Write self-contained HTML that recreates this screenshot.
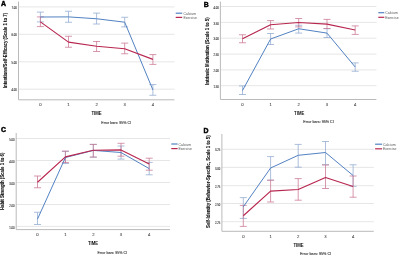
<!DOCTYPE html>
<html><head><meta charset="utf-8"><style>
html,body{margin:0;padding:0;background:#fff;}
body{width:400px;height:256px;overflow:hidden;}
svg{display:block;filter:blur(0.25px);}
text{font-family:"Liberation Sans", sans-serif;}
</style></head><body>
<svg width="400" height="256" viewBox="0 0 400 256">
<rect width="400" height="256" fill="#fff"/>
<line x1="18.5" y1="6.9" x2="174.5" y2="6.9" stroke="#e0e0e0" stroke-width="0.8"/>
<text x="16.9" y="9.05" text-anchor="end" font-size="3.4" fill="#2a2a2a" stroke="#2a2a2a" stroke-width="0.1" textLength="5.3" lengthAdjust="spacingAndGlyphs">7.00</text>
<line x1="18.5" y1="34.3" x2="174.5" y2="34.3" stroke="#e0e0e0" stroke-width="0.8"/>
<text x="16.9" y="36.45" text-anchor="end" font-size="3.4" fill="#2a2a2a" stroke="#2a2a2a" stroke-width="0.1" textLength="5.3" lengthAdjust="spacingAndGlyphs">6.00</text>
<line x1="18.5" y1="61.8" x2="174.5" y2="61.8" stroke="#e0e0e0" stroke-width="0.8"/>
<text x="16.9" y="63.95" text-anchor="end" font-size="3.4" fill="#2a2a2a" stroke="#2a2a2a" stroke-width="0.1" textLength="5.3" lengthAdjust="spacingAndGlyphs">5.00</text>
<line x1="18.5" y1="89.2" x2="174.5" y2="89.2" stroke="#e0e0e0" stroke-width="0.8"/>
<text x="16.9" y="91.35" text-anchor="end" font-size="3.4" fill="#2a2a2a" stroke="#2a2a2a" stroke-width="0.1" textLength="5.3" lengthAdjust="spacingAndGlyphs">4.00</text>
<path d="M18.5 1.6V99.8H174.5" fill="none" stroke="#bababa" stroke-width="1"/>
<text x="40.4" y="106" text-anchor="middle" font-size="4.2" fill="#444" stroke="#444" stroke-width="0.08">0</text>
<text x="68.5" y="106" text-anchor="middle" font-size="4.2" fill="#444" stroke="#444" stroke-width="0.08">1</text>
<text x="96.6" y="106" text-anchor="middle" font-size="4.2" fill="#444" stroke="#444" stroke-width="0.08">2</text>
<text x="124.7" y="106" text-anchor="middle" font-size="4.2" fill="#444" stroke="#444" stroke-width="0.08">3</text>
<text x="152.9" y="106" text-anchor="middle" font-size="4.2" fill="#444" stroke="#444" stroke-width="0.08">4</text>
<text x="96.6" y="115.1" text-anchor="middle" font-size="4.5" font-weight="bold" fill="#111" textLength="10.2" lengthAdjust="spacingAndGlyphs">TIME</text>
<text x="101.3" y="123.6" font-size="3.8" fill="#3a3a3a" stroke="#3a3a3a" stroke-width="0.12" textLength="29.8" lengthAdjust="spacingAndGlyphs">Error bars: 95% CI</text>
<text transform="translate(6.6 50.55) rotate(-90)" text-anchor="middle" font-size="4.7" font-weight="bold" fill="#111" stroke="#111" stroke-width="0.1" textLength="75.3" lengthAdjust="spacingAndGlyphs">Intentions/Self-Efficacy (Scale 1 to 7)</text>
<text x="1" y="6.2" font-size="6.9" font-weight="bold" fill="#000" stroke="#000" stroke-width="0.45">A</text>
<line x1="175.7" y1="13.2" x2="182.2" y2="13.2" stroke="#5282c2" stroke-width="1.2"/>
<line x1="175.7" y1="17.4" x2="182.2" y2="17.4" stroke="#b8264f" stroke-width="1.2"/>
<text x="183.5" y="14.8" font-size="4.2" fill="#555" textLength="12.6" lengthAdjust="spacingAndGlyphs">Calcium</text>
<text x="183.5" y="19" font-size="4.2" fill="#555" textLength="13.4" lengthAdjust="spacingAndGlyphs">Exercise</text>
<path d="M36.9 12.1H43.9M40.4 12.1V21.9M36.9 21.9H43.9" stroke="#90aad0" stroke-width="0.75" fill="none"/>
<path d="M65 11.25H72M68.5 11.25V22.25M65 22.25H72" stroke="#90aad0" stroke-width="0.75" fill="none"/>
<path d="M93.1 13.1H100.1M96.6 13.1V24M93.1 24H100.1" stroke="#90aad0" stroke-width="0.75" fill="none"/>
<path d="M121.2 17.25H128.2M124.7 17.25V26.9M121.2 26.9H128.2" stroke="#90aad0" stroke-width="0.75" fill="none"/>
<path d="M149.4 84.6H156.4M152.9 84.6V95.25M149.4 95.25H156.4" stroke="#90aad0" stroke-width="0.75" fill="none"/>
<path d="M36.9 16.9H43.9M40.4 16.9V26.6M36.9 26.6H43.9" stroke="#c97592" stroke-width="0.75" fill="none"/>
<path d="M65 36.25H72M68.5 36.25V47.25M65 47.25H72" stroke="#c97592" stroke-width="0.75" fill="none"/>
<path d="M93.1 41.5H100.1M96.6 41.5V51.5M93.1 51.5H100.1" stroke="#c97592" stroke-width="0.75" fill="none"/>
<path d="M121.2 43.1H128.2M124.7 43.1V53.75M121.2 53.75H128.2" stroke="#c97592" stroke-width="0.75" fill="none"/>
<path d="M149.4 54.6H156.4M152.9 54.6V64.4M149.4 64.4H156.4" stroke="#c97592" stroke-width="0.75" fill="none"/>
<polyline points="40.4,17 68.5,16.9 96.6,18.75 124.7,22.2 152.9,89.9" fill="none" stroke="#5282c2" stroke-width="1.0" stroke-linejoin="round"/>
<polyline points="40.4,21.9 68.5,42.1 96.6,46.3 124.7,48.7 152.9,59.4" fill="none" stroke="#b8264f" stroke-width="1.15" stroke-linejoin="round"/>
<line x1="220.4" y1="6.5" x2="376.4" y2="6.5" stroke="#e0e0e0" stroke-width="0.8"/>
<text x="218.8" y="8.65" text-anchor="end" font-size="3.4" fill="#2a2a2a" stroke="#2a2a2a" stroke-width="0.1" textLength="5.3" lengthAdjust="spacingAndGlyphs">4.00</text>
<line x1="220.4" y1="22.4" x2="376.4" y2="22.4" stroke="#e0e0e0" stroke-width="0.8"/>
<text x="218.8" y="24.55" text-anchor="end" font-size="3.4" fill="#2a2a2a" stroke="#2a2a2a" stroke-width="0.1" textLength="5.3" lengthAdjust="spacingAndGlyphs">3.50</text>
<line x1="220.4" y1="38.2" x2="376.4" y2="38.2" stroke="#e0e0e0" stroke-width="0.8"/>
<text x="218.8" y="40.35" text-anchor="end" font-size="3.4" fill="#2a2a2a" stroke="#2a2a2a" stroke-width="0.1" textLength="5.3" lengthAdjust="spacingAndGlyphs">3.00</text>
<line x1="220.4" y1="54.1" x2="376.4" y2="54.1" stroke="#e0e0e0" stroke-width="0.8"/>
<text x="218.8" y="56.25" text-anchor="end" font-size="3.4" fill="#2a2a2a" stroke="#2a2a2a" stroke-width="0.1" textLength="5.3" lengthAdjust="spacingAndGlyphs">2.50</text>
<line x1="220.4" y1="69.9" x2="376.4" y2="69.9" stroke="#e0e0e0" stroke-width="0.8"/>
<text x="218.8" y="72.05" text-anchor="end" font-size="3.4" fill="#2a2a2a" stroke="#2a2a2a" stroke-width="0.1" textLength="5.3" lengthAdjust="spacingAndGlyphs">2.00</text>
<line x1="220.4" y1="85.7" x2="376.4" y2="85.7" stroke="#e0e0e0" stroke-width="0.8"/>
<text x="218.8" y="87.85" text-anchor="end" font-size="3.4" fill="#2a2a2a" stroke="#2a2a2a" stroke-width="0.1" textLength="5.3" lengthAdjust="spacingAndGlyphs">1.50</text>
<path d="M220.4 1.6V99.5H376.4" fill="none" stroke="#bababa" stroke-width="1"/>
<text x="242.5" y="105.7" text-anchor="middle" font-size="4.2" fill="#444" stroke="#444" stroke-width="0.08">0</text>
<text x="270.6" y="105.7" text-anchor="middle" font-size="4.2" fill="#444" stroke="#444" stroke-width="0.08">1</text>
<text x="298.7" y="105.7" text-anchor="middle" font-size="4.2" fill="#444" stroke="#444" stroke-width="0.08">2</text>
<text x="327" y="105.7" text-anchor="middle" font-size="4.2" fill="#444" stroke="#444" stroke-width="0.08">3</text>
<text x="355.2" y="105.7" text-anchor="middle" font-size="4.2" fill="#444" stroke="#444" stroke-width="0.08">4</text>
<text x="299.2" y="115.2" text-anchor="middle" font-size="4.5" font-weight="bold" fill="#111" textLength="10.2" lengthAdjust="spacingAndGlyphs">TIME</text>
<text x="303.3" y="122.8" font-size="3.8" fill="#3a3a3a" stroke="#3a3a3a" stroke-width="0.12" textLength="30.5" lengthAdjust="spacingAndGlyphs">Error bars: 95% CI</text>
<text transform="translate(209.1 51.15) rotate(-90)" text-anchor="middle" font-size="4.7" font-weight="bold" fill="#111" stroke="#111" stroke-width="0.1" textLength="67.5" lengthAdjust="spacingAndGlyphs">Intrinsic Motivation (Scale 1 to 5)</text>
<text x="203.7" y="6.5" font-size="6.9" font-weight="bold" fill="#000" stroke="#000" stroke-width="0.45">B</text>
<line x1="378.3" y1="12.7" x2="384.3" y2="12.7" stroke="#5282c2" stroke-width="1.2"/>
<line x1="378.3" y1="17.3" x2="384.3" y2="17.3" stroke="#b8264f" stroke-width="1.2"/>
<text x="385.2" y="14.3" font-size="4.2" fill="#555" textLength="12.6" lengthAdjust="spacingAndGlyphs">Calcium</text>
<text x="385.2" y="18.9" font-size="4.2" fill="#555" textLength="13.4" lengthAdjust="spacingAndGlyphs">Exercise</text>
<path d="M239 85.9H246M242.5 85.9V94.5M239 94.5H246" stroke="#90aad0" stroke-width="0.75" fill="none"/>
<path d="M267.1 33.5H274.1M270.6 33.5V44.5M267.1 44.5H274.1" stroke="#90aad0" stroke-width="0.75" fill="none"/>
<path d="M295.2 25.3H302.2M298.7 25.3V33.1M295.2 33.1H302.2" stroke="#90aad0" stroke-width="0.75" fill="none"/>
<path d="M323.5 28.7H330.5M327 28.7V37.5M323.5 37.5H330.5" stroke="#90aad0" stroke-width="0.75" fill="none"/>
<path d="M351.7 62.9H358.7M355.2 62.9V71.25M351.7 71.25H358.7" stroke="#90aad0" stroke-width="0.75" fill="none"/>
<path d="M239 34.75H246M242.5 34.75V42.75M239 42.75H246" stroke="#c97592" stroke-width="0.75" fill="none"/>
<path d="M267.1 20.6H274.1M270.6 20.6V29M267.1 29H274.1" stroke="#c97592" stroke-width="0.75" fill="none"/>
<path d="M295.2 18.5H302.2M298.7 18.5V26.9M295.2 26.9H302.2" stroke="#c97592" stroke-width="0.75" fill="none"/>
<path d="M323.5 19.4H330.5M327 19.4V28.5M323.5 28.5H330.5" stroke="#c97592" stroke-width="0.75" fill="none"/>
<path d="M351.7 25.9H358.7M355.2 25.9V34.4M351.7 34.4H358.7" stroke="#c97592" stroke-width="0.75" fill="none"/>
<polyline points="242.5,90.5 270.6,39 298.7,28.75 327,33.1 355.2,67" fill="none" stroke="#5282c2" stroke-width="1.0" stroke-linejoin="round"/>
<polyline points="242.5,38.75 270.6,24.75 298.7,22.5 327,24.1 355.2,30" fill="none" stroke="#b8264f" stroke-width="1.15" stroke-linejoin="round"/>
<line x1="16.2" y1="138.5" x2="170" y2="138.5" stroke="#e0e0e0" stroke-width="0.8"/>
<text x="14.6" y="140.65" text-anchor="end" font-size="3.4" fill="#2a2a2a" stroke="#2a2a2a" stroke-width="0.1" textLength="5.3" lengthAdjust="spacingAndGlyphs">5.00</text>
<line x1="16.2" y1="160.5" x2="170" y2="160.5" stroke="#e0e0e0" stroke-width="0.8"/>
<text x="14.6" y="162.65" text-anchor="end" font-size="3.4" fill="#2a2a2a" stroke="#2a2a2a" stroke-width="0.1" textLength="5.3" lengthAdjust="spacingAndGlyphs">4.00</text>
<line x1="16.2" y1="182.5" x2="170" y2="182.5" stroke="#e0e0e0" stroke-width="0.8"/>
<text x="14.6" y="184.65" text-anchor="end" font-size="3.4" fill="#2a2a2a" stroke="#2a2a2a" stroke-width="0.1" textLength="5.3" lengthAdjust="spacingAndGlyphs">3.00</text>
<line x1="16.2" y1="204.5" x2="170" y2="204.5" stroke="#e0e0e0" stroke-width="0.8"/>
<text x="14.6" y="206.65" text-anchor="end" font-size="3.4" fill="#2a2a2a" stroke="#2a2a2a" stroke-width="0.1" textLength="5.3" lengthAdjust="spacingAndGlyphs">2.00</text>
<line x1="16.2" y1="226.4" x2="170" y2="226.4" stroke="#e0e0e0" stroke-width="0.8"/>
<text x="14.6" y="228.55" text-anchor="end" font-size="3.4" fill="#2a2a2a" stroke="#2a2a2a" stroke-width="0.1" textLength="5.3" lengthAdjust="spacingAndGlyphs">1.00</text>
<path d="M16.2 133V229.6H170" fill="none" stroke="#bababa" stroke-width="1"/>
<text x="37.5" y="235.8" text-anchor="middle" font-size="4.2" fill="#444" stroke="#444" stroke-width="0.08">0</text>
<text x="65.4" y="235.8" text-anchor="middle" font-size="4.2" fill="#444" stroke="#444" stroke-width="0.08">1</text>
<text x="93.3" y="235.8" text-anchor="middle" font-size="4.2" fill="#444" stroke="#444" stroke-width="0.08">2</text>
<text x="121" y="235.8" text-anchor="middle" font-size="4.2" fill="#444" stroke="#444" stroke-width="0.08">3</text>
<text x="149.2" y="235.8" text-anchor="middle" font-size="4.2" fill="#444" stroke="#444" stroke-width="0.08">4</text>
<text x="93.1" y="244.7" text-anchor="middle" font-size="4.5" font-weight="bold" fill="#111" textLength="10.2" lengthAdjust="spacingAndGlyphs">TIME</text>
<text x="97.6" y="253.5" font-size="3.8" fill="#3a3a3a" stroke="#3a3a3a" stroke-width="0.12" textLength="29.4" lengthAdjust="spacingAndGlyphs">Error bars: 95% CI</text>
<text transform="translate(4.2 181.35) rotate(-90)" text-anchor="middle" font-size="4.7" font-weight="bold" fill="#111" stroke="#111" stroke-width="0.1" textLength="57.5" lengthAdjust="spacingAndGlyphs">Habit Strength (Scale 1 to 6)</text>
<text x="1" y="132.4" font-size="6.9" font-weight="bold" fill="#000" stroke="#000" stroke-width="0.45">C</text>
<line x1="171.3" y1="144" x2="177.6" y2="144" stroke="#5282c2" stroke-width="1.2"/>
<line x1="171.3" y1="148.6" x2="177.6" y2="148.6" stroke="#b8264f" stroke-width="1.2"/>
<text x="178.5" y="145.6" font-size="4.2" fill="#555" textLength="12.6" lengthAdjust="spacingAndGlyphs">Calcium</text>
<text x="178.5" y="150.2" font-size="4.2" fill="#555" textLength="13.4" lengthAdjust="spacingAndGlyphs">Exercise</text>
<path d="M34 212.25H41M37.5 212.25V224.5M34 224.5H41" stroke="#90aad0" stroke-width="0.75" fill="none"/>
<path d="M61.9 151.5H68.9M65.4 151.5V163.5M61.9 163.5H68.9" stroke="#90aad0" stroke-width="0.75" fill="none"/>
<path d="M89.8 144.4H96.8M93.3 144.4V157.25M89.8 157.25H96.8" stroke="#90aad0" stroke-width="0.75" fill="none"/>
<path d="M117.5 146H124.5M121 146V159.1M117.5 159.1H124.5" stroke="#90aad0" stroke-width="0.75" fill="none"/>
<path d="M145.7 162.4H152.7M149.2 162.4V174.8M145.7 174.8H152.7" stroke="#90aad0" stroke-width="0.75" fill="none"/>
<path d="M34 176H41M37.5 176V187.75M34 187.75H41" stroke="#c97592" stroke-width="0.75" fill="none"/>
<path d="M61.9 151H68.9M65.4 151V162.5M61.9 162.5H68.9" stroke="#c97592" stroke-width="0.75" fill="none"/>
<path d="M89.8 144.4H96.8M93.3 144.4V157M89.8 157H96.8" stroke="#c97592" stroke-width="0.75" fill="none"/>
<path d="M117.5 143.3H124.5M121 143.3V156.2M117.5 156.2H124.5" stroke="#c97592" stroke-width="0.75" fill="none"/>
<path d="M145.7 158.2H152.7M149.2 158.2V170.2M145.7 170.2H152.7" stroke="#c97592" stroke-width="0.75" fill="none"/>
<polyline points="37.5,219.1 65.4,157.5 93.3,150.4 121,152.5 149.2,168.6" fill="none" stroke="#5282c2" stroke-width="1.0" stroke-linejoin="round"/>
<polyline points="37.5,182.25 65.4,156.9 93.3,150.3 121,149.9 149.2,163.9" fill="none" stroke="#b8264f" stroke-width="1.15" stroke-linejoin="round"/>
<line x1="221.9" y1="149.3" x2="373.8" y2="149.3" stroke="#e0e0e0" stroke-width="0.8"/>
<text x="220.3" y="151.45" text-anchor="end" font-size="3.4" fill="#2a2a2a" stroke="#2a2a2a" stroke-width="0.1" textLength="5.3" lengthAdjust="spacingAndGlyphs">3.25</text>
<line x1="221.9" y1="167.4" x2="373.8" y2="167.4" stroke="#e0e0e0" stroke-width="0.8"/>
<text x="220.3" y="169.55" text-anchor="end" font-size="3.4" fill="#2a2a2a" stroke="#2a2a2a" stroke-width="0.1" textLength="5.3" lengthAdjust="spacingAndGlyphs">3.00</text>
<line x1="221.9" y1="185.7" x2="373.8" y2="185.7" stroke="#e0e0e0" stroke-width="0.8"/>
<text x="220.3" y="187.85" text-anchor="end" font-size="3.4" fill="#2a2a2a" stroke="#2a2a2a" stroke-width="0.1" textLength="5.3" lengthAdjust="spacingAndGlyphs">2.75</text>
<line x1="221.9" y1="203.5" x2="373.8" y2="203.5" stroke="#e0e0e0" stroke-width="0.8"/>
<text x="220.3" y="205.65" text-anchor="end" font-size="3.4" fill="#2a2a2a" stroke="#2a2a2a" stroke-width="0.1" textLength="5.3" lengthAdjust="spacingAndGlyphs">2.50</text>
<line x1="221.9" y1="221.7" x2="373.8" y2="221.7" stroke="#e0e0e0" stroke-width="0.8"/>
<text x="220.3" y="223.85" text-anchor="end" font-size="3.4" fill="#2a2a2a" stroke="#2a2a2a" stroke-width="0.1" textLength="5.3" lengthAdjust="spacingAndGlyphs">2.25</text>
<path d="M221.9 134V231.3H373.8" fill="none" stroke="#bababa" stroke-width="1"/>
<text x="243.3" y="237.9" text-anchor="middle" font-size="4.2" fill="#444" stroke="#444" stroke-width="0.08">0</text>
<text x="270.6" y="237.9" text-anchor="middle" font-size="4.2" fill="#444" stroke="#444" stroke-width="0.08">1</text>
<text x="298.2" y="237.9" text-anchor="middle" font-size="4.2" fill="#444" stroke="#444" stroke-width="0.08">2</text>
<text x="325.5" y="237.9" text-anchor="middle" font-size="4.2" fill="#444" stroke="#444" stroke-width="0.08">3</text>
<text x="353.1" y="237.9" text-anchor="middle" font-size="4.2" fill="#444" stroke="#444" stroke-width="0.08">4</text>
<text x="298.5" y="246.8" text-anchor="middle" font-size="4.5" font-weight="bold" fill="#111" textLength="10.2" lengthAdjust="spacingAndGlyphs">TIME</text>
<text x="300.1" y="254.6" font-size="3.8" fill="#3a3a3a" stroke="#3a3a3a" stroke-width="0.12" textLength="31.2" lengthAdjust="spacingAndGlyphs">Error bars: 95% CI</text>
<text transform="translate(210.3 181.65) rotate(-90)" text-anchor="middle" font-size="4.7" font-weight="bold" fill="#111" stroke="#111" stroke-width="0.1" textLength="92.7" lengthAdjust="spacingAndGlyphs">Self-Identity (Behavior-Specific, Scale 1 to 5)</text>
<text x="203.6" y="132.5" font-size="6.9" font-weight="bold" fill="#000" stroke="#000" stroke-width="0.45">D</text>
<line x1="375.1" y1="144.2" x2="382.1" y2="144.2" stroke="#5282c2" stroke-width="1.2"/>
<line x1="375.1" y1="148.8" x2="382.1" y2="148.8" stroke="#b8264f" stroke-width="1.2"/>
<text x="383" y="145.8" font-size="4.2" fill="#555" textLength="12.6" lengthAdjust="spacingAndGlyphs">Calcium</text>
<text x="383" y="150.4" font-size="4.2" fill="#555" textLength="13.4" lengthAdjust="spacingAndGlyphs">Exercise</text>
<path d="M239.8 197.6H246.8M243.3 197.6V218.4M239.8 218.4H246.8" stroke="#90aad0" stroke-width="0.75" fill="none"/>
<path d="M267.1 156.6H274.1M270.6 156.6V180.2M267.1 180.2H274.1" stroke="#90aad0" stroke-width="0.75" fill="none"/>
<path d="M294.7 144.4H301.7M298.2 144.4V167.2M294.7 167.2H301.7" stroke="#90aad0" stroke-width="0.75" fill="none"/>
<path d="M322 141.5H329M325.5 141.5V164.7M322 164.7H329" stroke="#90aad0" stroke-width="0.75" fill="none"/>
<path d="M349.6 164.8H356.6M353.1 164.8V186.3M349.6 186.3H356.6" stroke="#90aad0" stroke-width="0.75" fill="none"/>
<path d="M239.8 205.4H246.8M243.3 205.4V226.4M239.8 226.4H246.8" stroke="#c97592" stroke-width="0.75" fill="none"/>
<path d="M267.1 180.2H274.1M270.6 180.2V202M267.1 202H274.1" stroke="#c97592" stroke-width="0.75" fill="none"/>
<path d="M294.7 178.6H301.7M298.2 178.6V200.2M294.7 200.2H301.7" stroke="#c97592" stroke-width="0.75" fill="none"/>
<path d="M322 165H329M325.5 165V188.5M322 188.5H329" stroke="#c97592" stroke-width="0.75" fill="none"/>
<path d="M349.6 176H356.6M353.1 176V197.2M349.6 197.2H356.6" stroke="#c97592" stroke-width="0.75" fill="none"/>
<polyline points="243.3,206.8 270.6,168 298.2,155.3 325.5,152.5 353.1,175.5" fill="none" stroke="#5282c2" stroke-width="1.0" stroke-linejoin="round"/>
<polyline points="243.3,215.7 270.6,191.1 298.2,189.5 325.5,177.5 353.1,186.5" fill="none" stroke="#b8264f" stroke-width="1.15" stroke-linejoin="round"/>
</svg>
</body></html>
